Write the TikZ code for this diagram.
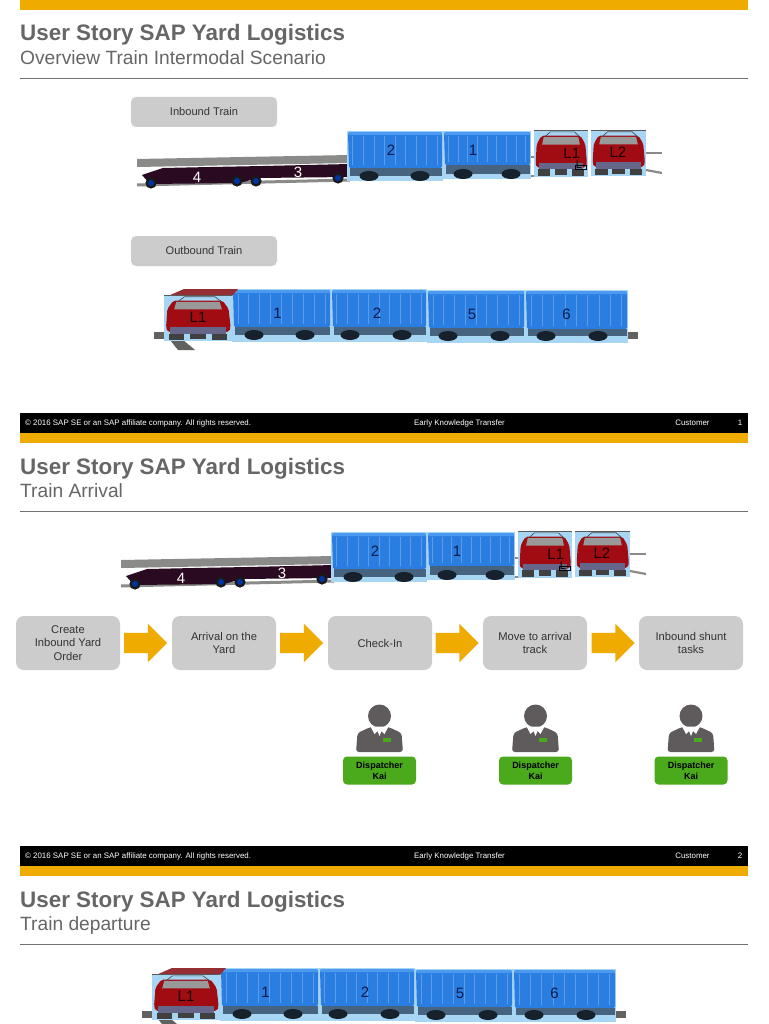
\documentclass[tikz,border=0pt]{standalone}
\usepackage{fontspec}
\setmainfont{Liberation Sans}
\usetikzlibrary{shapes.arrows,calc}
\definecolor{sapgold}{HTML}{F0AB00}
\definecolor{boxgray}{HTML}{CCCCCC}
\definecolor{inkgray}{HTML}{666666}
\definecolor{halo}{HTML}{A6D6F4}
\definecolor{wagblue}{HTML}{2A7DE1}
\definecolor{wagtop}{HTML}{4A9BF0}
\definecolor{wagrib}{HTML}{5C9CE8}
\definecolor{under}{HTML}{46647F}
\definecolor{wheeldark}{HTML}{16212B}
\definecolor{locored}{HTML}{A00C12}
\definecolor{flatdark}{HTML}{2A0A20}
\definecolor{railgray}{HTML}{8A8A88}
\definecolor{persongray}{HTML}{5F5B5D}
\definecolor{badgegreen}{HTML}{4BA91C}
\definecolor{labelnavy}{HTML}{0A1A4A}
\tikzset{
  x=1pt,y=-1pt,
  titletext/.style={anchor=base west,inner sep=0,text=inkgray,font=\fontsize{22.4}{22.4}\selectfont\bfseries},
  subtext/.style={anchor=base west,inner sep=0,text=inkgray,font=\fontsize{19.2}{19.2}\selectfont},
  foottext/.style={anchor=base,inner sep=0,text=white,font=\fontsize{7.9}{7.9}\selectfont},
  tagbox/.style={fill=boxgray,rounded corners=5pt,minimum width=146pt,minimum height=30pt,inner sep=0,text=black!80,font=\fontsize{11.1}{11.1}\selectfont},
  stepbox/.style={fill=boxgray,rounded corners=8pt,minimum width=104pt,minimum height=54pt,inner sep=0,align=center,text=black!80,font=\fontsize{11.2}{13.2}\selectfont},
  flowarrow/.style={single arrow,fill=sapgold,draw=none,inner xsep=0,inner ysep=10pt,minimum height=43pt,single arrow head extend=9pt,single arrow tip angle=90},
  rolebox/.style={fill=badgegreen,rounded corners=4pt,minimum width=73pt,minimum height=28pt,inner sep=0,align=center,text=black,font=\fontsize{9}{11}\selectfont\bfseries},
  traintext/.style={inner sep=0,font=\fontsize{15}{15}\selectfont},
}
% wagon: x0 x1 ytop yblue yunder ybottom wheel1 wheel2 label
\newcommand{\wagonbox}[9]{%
  \fill[halo] (#1,#3) rectangle (#2,#6);
  \fill[wagblue,rounded corners=1.5pt] (#1+1,#3+2) -- (#2-1,#3+2) -- (#2-1,#4) -- (#1+2,#4) -- cycle;
  \fill[wagtop,rounded corners=1pt] (#1+1,#3+1) -- (#2-1,#3+1) -- (#2-1,#3+4) -- (#1+1,#3+4) -- cycle;
  \foreach \rr in {0.06,0.17,...,0.95}{
    \draw[wagrib,line width=.7pt] ({#1+\rr*(#2-#1)},#3+5) -- ({#1+\rr*(#2-#1)},#4-3);
  }
  \fill[under] (#1+3,#4) rectangle (#2-1,#5);
  \fill[wheeldark] (#7,#5) ellipse [x radius=9.5,y radius=5];
  \fill[wheeldark] (#8,#5) ellipse [x radius=9.5,y radius=5];
  \node[traintext,text=labelnavy] at ({(#1+#2)/2+\labelshift},#3+\labeldrop) {#9};
}
\newcommand{\labelshift}{0}
\newcommand{\labeldrop}{19}
% locomotive: x y w h label labelx
\newcommand{\locobox}[6]{%
  \begin{scope}[shift={(#1,#2)},x=#3pt,y=-#4pt]
    \fill[halo] (0,0) rectangle (1,1);
    \draw[black!65,line width=.9pt] (0,0) -- (1,0);
    \fill[locored,rounded corners=2pt] (.03,.7) -- (.05,.3) -- (.14,.12) -- (.86,.12) -- (.95,.3) -- (.98,.7) -- (.96,.8) -- (.05,.8) -- cycle;
    \fill[black!40] (.18,.15) -- (.82,.15) -- (.85,.31) -- (.15,.31) -- cycle;
    \draw[black!70,line width=.7pt] (.2,.15) -- (.3,.04) -- (.75,.04) -- (.85,.15);
    \fill[black!30!blue!20!gray] (.09,.7) rectangle (.91,.84);
    \fill[black!75] (.08,.84) rectangle (.3,.97);
    \fill[black!75] (.38,.84) rectangle (.62,.95);
    \fill[black!75] (.7,.84) rectangle (.92,.97);
    \node[traintext,text=black!90!red] at (#6,.49) {#5};
  \end{scope}
}
\newcommand{\inboundtrain}[1]{%
\begin{scope}[shift={#1}]
  \fill[railgray] (137,159) -- (350,155) -- (350,163) -- (137,167) -- cycle;
  \draw[railgray,line width=3pt] (137,185) -- (350,180);
  \fill[flatdark] (142,175) -- (163,168) -- (210,167) -- (263,166) -- (350,164) -- (350,177) -- (258,178) -- (240,183) -- (150,184) -- cycle;
  \foreach \wx/\wy in {151/183,237/181,256/181,338/178}{
    \fill[black!90] (\wx,\wy) circle (5.6);
    \fill[blue!55!black!80!cyan] (\wx,\wy) circle (3);
  }
  \node[traintext,text=white] at (197,177) {4};
  \node[traintext,text=white] at (298,172) {3};
  \renewcommand{\labelshift}{-4}
  \wagonbox{347}{443}{131}{168}{176}{181}{369}{420}{2}
  \renewcommand{\labelshift}{-14}
  \wagonbox{443}{531}{131}{165}{174}{179}{463}{511}{1}
  \draw[railgray,line width=2pt] (531,157) -- (535,157);
  \draw[railgray,line width=2pt] (531,176) -- (535,176);
  \locobox{534}{130}{54}{47}{L1}{.7}
  \locobox{591}{130}{55}{46}{L2}{.49}
  \node[traintext,font=\fontsize{11}{11}\selectfont,text=black] at (579,165) {L};
  \draw[black,line width=.5pt] (575,165) rectangle (586,169);
  \draw[railgray,line width=2.2pt] (646,153) -- (662,153);
  \draw[railgray,line width=2.2pt] (646,170) -- (662,173);
\end{scope}}
\newcommand{\outboundtrain}[1]{%
\begin{scope}[shift={#1}]
  \fill[railgray!70!black] (154,332) rectangle (638,339);
  \fill[railgray!70!black] (170,340) -- (183,340) -- (195,350) -- (178,350) -- cycle;
  \renewcommand{\labeldrop}{24}
  \renewcommand{\labelshift}{-4}
  \wagonbox{232}{331}{289}{327}{335}{342}{254}{305}{1}
  \renewcommand{\labelshift}{-2}
  \wagonbox{331}{427}{289}{327}{335}{342}{350}{402}{2}
  \renewcommand{\labelshift}{-4}
  \wagonbox{427}{525}{290}{328}{336}{343}{448}{500}{5}
  \renewcommand{\labelshift}{-10}
  \wagonbox{525}{628}{290}{329}{336}{343}{546}{598}{6}
  \fill[locored!70!gray] (168,296) -- (184,289) -- (238,289) -- (232,296) -- cycle;
  \locobox{164}{295}{68}{46}{L1}{.5}
\end{scope}}
\newcommand{\person}[2]{% centre x, node name
  \fill[persongray] (#1,716) circle (11.5);
  \fill[persongray,rounded corners=3pt] (#1-23.5,752) -- (#1-22,733) -- (#1-9,727) -- (#1+9,727) -- (#1+22,733) -- (#1+23.5,752) -- cycle;
  \fill[white] (#1-9,726.5) -- (#1+9,726.5) -- (#1+5,734) -- (#1+2,731) -- (#1,736) -- (#1-2,731) -- (#1-5,734) -- cycle;
  \fill[badgegreen] (#1+3,738) rectangle (#1+11,742);
  \node[rolebox] (#2) at (#1,770.5) {Dispatcher\\Kai};
}
\newcommand{\slidehead}[3]{%
  \node[titletext] (#1title) at (20,41+#3) {User Story SAP Yard Logistics};
  \node[subtext] (#1sub) at (20,64.5+#3) {#2};
  \draw[black!55,line width=.6pt] (20,78+#3) -- (748,78+#3);
}
\newcommand{\slidefoot}[2]{%
  \fill[black] (20,413+#1) rectangle (748,433+#1);
  \fill[sapgold] (20,433+#1) rectangle (748,443+#1);
  \node[foottext,anchor=base west] (f#2a) at (25,425+#1) {© 2016 SAP SE or an SAP affiliate company. All rights reserved.};
  \node[foottext] (f#2b) at (459.5,425+#1) {Early Knowledge Transfer};
  \node[foottext] (f#2c) at (692.5,425+#1) {Customer};
  \node[foottext] (f#2d) at (740,425+#1) {#2};
}
\begin{document}
\begin{tikzpicture}
\useasboundingbox (0,0) rectangle (768,1024);
\clip (0,0) rectangle (768,1024);
\fill[white] (0,0) rectangle (768,1024);
\fill[sapgold] (20,0) rectangle (748,10);
% slide 1
\slidehead{a}{Overview Train Intermodal Scenario}{0}
\node[tagbox] (inboundtag) at (204,112) {Inbound Train};
\inboundtrain{(0,0)}
\node[tagbox] (outboundtag) at (204,251) {Outbound Train};
\outboundtrain{(0,0)}
\slidefoot{0}{1}
% slide 2
\slidehead{b}{Train Arrival}{433}
\inboundtrain{(-16,401)}
\node[stepbox] (s1) at (68,643) {Create\\Inbound Yard\\Order};
\node[stepbox] (s2) at (224,643) {Arrival on the\\Yard};
\node[stepbox] (s3) at (380,643) {Check-In};
\node[stepbox] (s4) at (535,643) {Move to arrival\\track};
\node[stepbox] (s5) at (691,643) {Inbound shunt\\tasks};
\node[flowarrow] (a1) at (140.5,643) {};
\node[flowarrow] (a2) at (296.5,643) {};
\node[flowarrow] (a3) at (452,643) {};
\node[flowarrow] (a4) at (608,643) {};
\person{379.5}{p1}
\person{535.5}{p2}
\person{691}{p3}
\slidefoot{433}{2}
% slide 3
\slidehead{c}{Train departure}{866}
\outboundtrain{(-12,679)}
\end{tikzpicture}
\end{document}
